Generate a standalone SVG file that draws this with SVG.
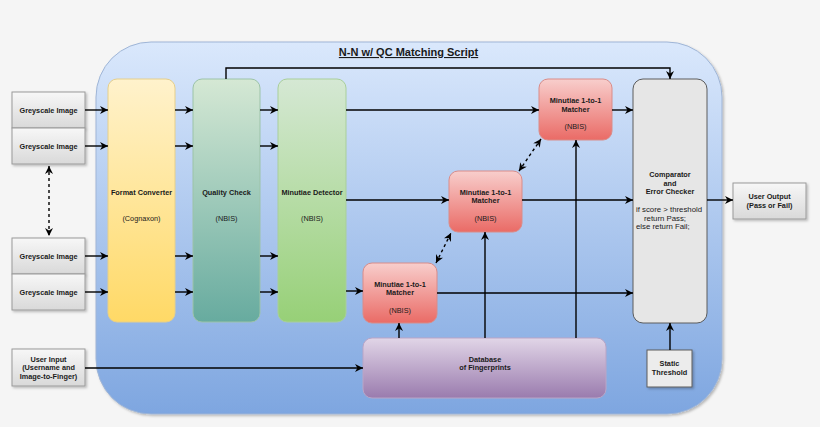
<svg xmlns="http://www.w3.org/2000/svg" width="820" height="427" viewBox="0 0 820 427">
<defs>
<linearGradient id="gCont" x1="0" y1="0" x2="0" y2="1"><stop offset="0" stop-color="#dae8fc"/><stop offset="1" stop-color="#7ea6e0"/></linearGradient>
<linearGradient id="gGrey" x1="0" y1="0" x2="0" y2="1"><stop offset="0" stop-color="#f7f7f7"/><stop offset="1" stop-color="#d9d9d9"/></linearGradient>
<linearGradient id="gYellow" x1="0" y1="0" x2="0" y2="1"><stop offset="0" stop-color="#fff2cc"/><stop offset="1" stop-color="#ffd966"/></linearGradient>
<linearGradient id="gQC" x1="0" y1="0" x2="0" y2="1"><stop offset="0" stop-color="#d5e8d4"/><stop offset="1" stop-color="#67ab9f"/></linearGradient>
<linearGradient id="gMD" x1="0" y1="0" x2="0" y2="1"><stop offset="0" stop-color="#d5e8d4"/><stop offset="1" stop-color="#97d077"/></linearGradient>
<linearGradient id="gRed" x1="0" y1="0" x2="0" y2="1"><stop offset="0" stop-color="#f8cecc"/><stop offset="1" stop-color="#ea6b66"/></linearGradient>
<linearGradient id="gPurple" x1="0" y1="0" x2="0" y2="1"><stop offset="0" stop-color="#e1d5e7"/><stop offset="1" stop-color="#9a7bae"/></linearGradient>
<filter id="sh" x="-10%" y="-10%" width="130%" height="130%"><feDropShadow dx="1.5" dy="1.5" stdDeviation="1" flood-color="#000" flood-opacity="0.25"/></filter>
<marker id="arr" viewBox="0 0 10 10" refX="10" refY="5" markerWidth="8" markerHeight="8" markerUnits="userSpaceOnUse" orient="auto-start-reverse"><path d="M0,0 L10,5 L0,10 L3,5 z" fill="#000"/></marker>
</defs>
<style>
text{font-family:"Liberation Sans",Arial,sans-serif;font-size:7.3px;fill:#1a1a1a;text-anchor:middle}
.b{font-weight:bold}
.code{font-size:7.8px;text-anchor:start}
.ttl{font-size:11px;font-weight:bold;text-decoration:underline}
.grey{fill:url(#gGrey);stroke:#9a9a9a;stroke-width:1;filter:url(#sh)}
.c{fill:none;stroke:#000;stroke-width:1.4;marker-end:url(#arr)}
.d{fill:none;stroke:#000;stroke-width:1.4;stroke-dasharray:3,3;marker-start:url(#arr);marker-end:url(#arr)}
</style>
<rect width="820" height="427" fill="#f5f5f5"/>

<g id="container">
<rect x="96" y="42" width="626" height="372" rx="55" fill="url(#gCont)" stroke="#9fb5d6" stroke-width="1" filter="url(#sh)"/>
<text class="ttl" x="408.5" y="56">N-N w/ QC Matching Script</text>
</g>

<g id="grey1"><rect class="grey" x="12" y="92" width="73" height="36"/><text class="b" x="48.5" y="112.6">Greyscale Image</text></g>
<g id="grey2"><rect class="grey" x="12" y="128" width="73" height="36"/><text class="b" x="48.5" y="148.6">Greyscale Image</text></g>
<g id="grey3"><rect class="grey" x="12" y="238" width="73" height="36"/><text class="b" x="48.5" y="258.6">Greyscale Image</text></g>
<g id="grey4"><rect class="grey" x="12" y="274" width="73" height="36"/><text class="b" x="48.5" y="294.6">Greyscale Image</text></g>

<g id="userInput"><rect class="grey" x="12" y="349" width="73" height="37"/>
<text class="b" x="48.5" y="361.6">User Input</text><text class="b" x="48.5" y="370.4">(Username and</text><text class="b" x="48.5" y="379">Image-to-Finger)</text></g>

<g id="formatConverter"><rect x="108" y="79" width="67" height="243" rx="9" fill="url(#gYellow)" stroke="#e6cf8a" stroke-width="1"/>
<text class="b" x="141.5" y="194.6">Format Converter</text><text x="141.5" y="220.6">(Cognaxon)</text></g>

<g id="qualityCheck"><rect x="193" y="79" width="67" height="243" rx="9" fill="url(#gQC)" stroke="#9cc3a8" stroke-width="1"/>
<text class="b" x="226.5" y="194.6">Quality Check</text><text x="226.5" y="220.6">(NBIS)</text></g>

<g id="minutiaeDetector"><rect x="278" y="79" width="68" height="243" rx="9" fill="url(#gMD)" stroke="#a9cf9a" stroke-width="1"/>
<text class="b" x="312" y="194.6">Minutiae Detector</text><text x="312" y="220.6">(NBIS)</text></g>

<g id="matcherTop"><rect x="539" y="79" width="73" height="61" rx="9" fill="url(#gRed)" stroke="#d98c89" stroke-width="1"/>
<text class="b" x="575.5" y="103.3">Minutiae 1-to-1</text><text class="b" x="575.5" y="111.9">Matcher</text><text x="575.5" y="129.3">(NBIS)</text></g>

<g id="matcherMid"><rect x="449" y="171" width="73" height="61" rx="9" fill="url(#gRed)" stroke="#d98c89" stroke-width="1"/>
<text class="b" x="485.5" y="194.6">Minutiae 1-to-1</text><text class="b" x="485.5" y="203.3">Matcher</text><text x="485.5" y="220.6">(NBIS)</text></g>

<g id="matcherBottom"><rect x="363" y="263" width="74" height="60" rx="9" fill="url(#gRed)" stroke="#d98c89" stroke-width="1"/>
<text class="b" x="400" y="286.6">Minutiae 1-to-1</text><text class="b" x="400" y="295.3">Matcher</text><text x="400" y="312.6">(NBIS)</text></g>

<g id="database"><rect x="363" y="338" width="243" height="60" rx="9" fill="url(#gPurple)" stroke="#b9a5c6" stroke-width="1"/>
<text class="b" x="485" y="361.9">Database</text><text class="b" x="485" y="370.3">of Fingerprints</text></g>

<g id="comparator"><rect x="633" y="79" width="74" height="244" rx="10" fill="#e6e6e6" stroke="#5c5c5c" stroke-width="1"/>
<text class="b" x="670" y="176.6">Comparator</text><text class="b" x="670" y="185.6">and</text><text class="b" x="670" y="194.1">Error Checker</text>
<text class="code" x="636" y="211.8">if score &gt; threshold</text>
<text class="code" x="644" y="220.6">return Pass;</text>
<text class="code" x="636" y="229.2">else return Fail;</text></g>

<g id="staticThreshold"><rect x="647" y="350" width="45" height="37" fill="#ececec" stroke="#5c5c5c" stroke-width="1" filter="url(#sh)"/>
<text class="b" x="669.5" y="365.9">Static</text><text class="b" x="669.5" y="374.6">Threshold</text></g>

<g id="userOutput"><rect class="grey" x="733" y="183" width="73" height="36"/>
<text class="b" x="769.5" y="199.3">User Output</text><text class="b" x="769.5" y="207.9">(Pass or Fail)</text></g>

<g id="connectors">
<path class="c" d="M85,110 H108"/><path class="c" d="M85,146 H108"/><path class="c" d="M85,256 H108"/><path class="c" d="M85,292 H108"/>
<path class="c" d="M175,110 H193"/><path class="c" d="M175,146 H193"/><path class="c" d="M175,256 H193"/><path class="c" d="M175,292 H193"/>
<path class="c" d="M260,110 H278"/><path class="c" d="M260,146 H278"/><path class="c" d="M260,256 H278"/><path class="c" d="M260,292 H278"/>
<path class="c" d="M346,110 H539"/>
<path class="c" d="M346,200 H449"/>
<path class="c" d="M346,291 H363"/>
<path class="c" d="M612,110 H633"/>
<path class="c" d="M522,200 H633"/>
<path class="c" d="M437,293 H633"/>
<path class="c" d="M226,79 V68 H670 V79"/>
<path class="c" d="M399,338 V323"/>
<path class="c" d="M485,338 V232"/>
<path class="c" d="M576,338 V140"/>
<path class="c" d="M85,368 H363"/>
<path class="c" d="M670,350 V323"/>
<path class="c" d="M707,200 H733"/>
<path class="d" d="M49,166 V236"/>
<path class="d" d="M436,263 L451,233"/>
<path class="d" d="M519,171 L541,139"/>
</g>
</svg>
